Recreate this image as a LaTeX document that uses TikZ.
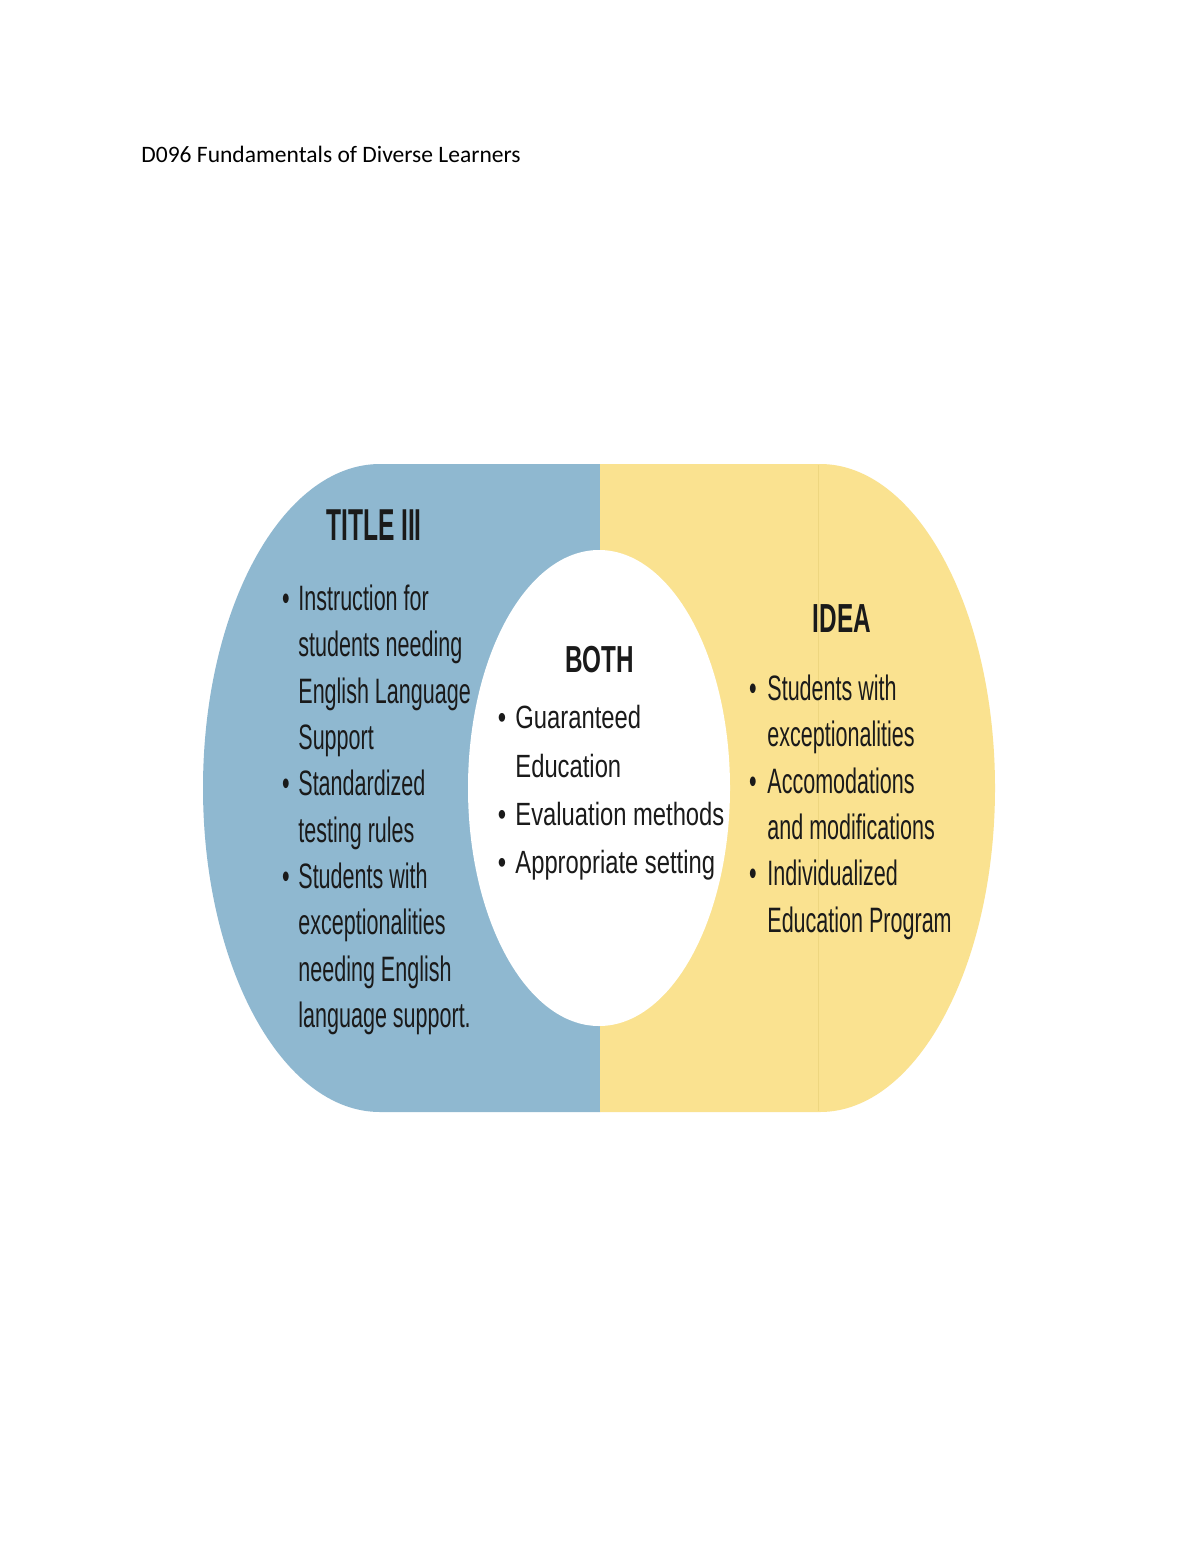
\documentclass[tikz,border=0pt]{standalone}
\usepackage{fontspec}
\setmainfont{Liberation Sans}
\newfontfamily\docF{Carlito}
\newfontfamily\sideF[FakeStretch=0.61]{Liberation Sans}
\newfontfamily\midF[FakeStretch=0.74]{Liberation Sans}
\newfontfamily\ttlF[FakeStretch=0.55]{Liberation Sans}
\newfontfamily\bothF[FakeStretch=0.645]{Liberation Sans}
\newfontfamily\ideaF[FakeStretch=0.6]{Liberation Sans}
\definecolor{blueF}{RGB}{143,184,208}
\definecolor{yelF}{RGB}{250,226,144}
\definecolor{yelLine}{RGB}{238,214,128}
\definecolor{txt}{RGB}{26,26,26}
\tikzset{
  side/.style={font=\sideF\fontsize{18}{20}\selectfont, text=txt, inner sep=0pt, anchor=base west},
  sidebul/.style={side, anchor=base},
  mid/.style={font=\midF\fontsize{16.4}{18}\selectfont, text=txt, inner sep=0pt, anchor=base west},
  midbul/.style={mid, anchor=base},
  head/.style={text=txt, inner sep=0pt, anchor=base},
}
\begin{document}
\begin{tikzpicture}[x=0.51pt,y=-0.51pt]
\useasboundingbox[fill=white] (0,0) rectangle (1200,1553);
% document title
\node[anchor=base west, inner sep=0pt, font=\docF\fontsize{12}{14}\selectfont, text=black] (doctitle) at (141,163) {D096 Fundamentals of Diverse Learners};
% blue half
\fill[blueF] (600,464) -- (380,464) arc[start angle=-90, end angle=-270, x radius=177, y radius=324] -- (600,1112) -- cycle;
% yellow half
\fill[yelF] (600,464) -- (820,464) arc[start angle=-90, end angle=90, x radius=175, y radius=324] -- (600,1112) -- cycle;
\draw[yelLine, line width=0.5pt] (818,465) -- (818,1111);
% white centre
\fill[white] (599,788) ellipse[x radius=131, y radius=238];
% headings
\node[head, font=\ttlF\bfseries\fontsize{22.8}{24}\selectfont] (title3) at (374,540) {TITLE III};
\node[head, font=\bothF\bfseries\fontsize{19.2}{21}\selectfont] (both) at (599.5,672) {BOTH};
\node[head, font=\ideaF\bfseries\fontsize{20.7}{22}\selectfont] (idea) at (842,632) {IDEA};
% left list
\node[sidebul] (lb1) at (286,610) {•};
\node[side] (l1) at (298,610) {Instruction for};
\node[side] (l2) at (298,656) {students needing};
\node[side] (l3) at (298,703) {English Language};
\node[side] (l4) at (298,749) {Support};
\node[sidebul] (lb2) at (286,795) {•};
\node[side] (l5) at (298,795) {Standardized};
\node[side] (l6) at (298,842) {testing rules};
\node[sidebul] (lb3) at (286,888) {•};
\node[side] (l7) at (298,888) {Students with};
\node[side] (l8) at (298,934) {exceptionalities};
\node[side] (l9) at (298,981) {needing English};
\node[side] (l10) at (298,1027) {language support.};
% centre list
\node[midbul] (mb1) at (502,728) {•};
\node[mid] (m1) at (515,728) {Guaranteed};
\node[mid] (m2) at (515,777) {Education};
\node[midbul] (mb2) at (502,825) {•};
\node[mid] (m3) at (515,825) {Evaluation methods};
\node[midbul] (mb3) at (502,873) {•};
\node[mid] (m4) at (515,873) {Appropriate setting};
% right list
\node[sidebul] (rb1) at (753,700) {•};
\node[side] (r1) at (767,700) {Students with};
\node[side] (r2) at (767,746) {exceptionalities};
\node[sidebul] (rb2) at (753,793) {•};
\node[side] (r3) at (767,793) {Accomodations};
\node[side] (r4) at (767,839) {and modifications};
\node[sidebul] (rb3) at (753,885) {•};
\node[side] (r5) at (767,885) {Individualized};
\node[side] (r6) at (767,932) {Education Program};
\end{tikzpicture}
\end{document}
